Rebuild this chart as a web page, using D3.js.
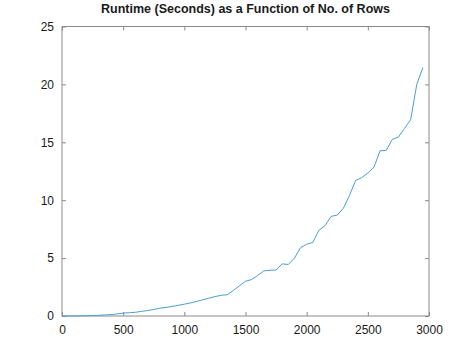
<!DOCTYPE html>
<html>
<head>
<meta charset="utf-8">
<script src="https://cdn.jsdelivr.net/npm/d3@7"></script>
<style>
  body { margin: 0; background: #fff; }
  text { font-family: "Liberation Sans", Arial, sans-serif; }
</style>
</head>
<body>
<script>
var svgWidth = 474;
var svgHeight = 355;

var margin = { top: 26.5, right: 45, bottom: 39, left: 62 };
var width = svgWidth - margin.left - margin.right;
var height = svgHeight - margin.top - margin.bottom;

// rows (x) and runtime in seconds (y)
var rows = [0, 50, 100, 150, 200, 250, 300, 350, 400, 450,
  500, 550, 600, 650, 700, 750, 800, 850, 900, 950,
  1000, 1050, 1100, 1150, 1200, 1250, 1300, 1350, 1400, 1450,
  1500, 1550, 1600, 1650, 1700, 1750, 1800, 1850, 1900, 1950,
  2000, 2050, 2100, 2150, 2200, 2250, 2300, 2350, 2400, 2450,
  2500, 2550, 2600, 2650, 2700, 2750, 2800, 2850, 2900, 2950];
var seconds = [0, 0.002, 0.005, 0.01, 0.02, 0.04, 0.06, 0.09, 0.12, 0.17,
  0.25, 0.28, 0.32, 0.4, 0.47, 0.56, 0.68, 0.74, 0.83, 0.92,
  1.02, 1.13, 1.26, 1.4, 1.53, 1.67, 1.79, 1.83, 2.2, 2.6,
  3.0, 3.15, 3.5, 3.9, 3.95, 3.97, 4.5, 4.45, 5.0, 5.9,
  6.2, 6.35, 7.4, 7.8, 8.6, 8.72, 9.3, 10.4, 11.7, 11.95,
  12.35, 12.85, 14.27, 14.3, 15.25, 15.45, 16.2, 16.95, 20.0, 21.45];
var xTicks = [0, 500, 1000, 1500, 2000, 2500, 3000];
var yTicks = [0, 5, 10, 15, 20, 25];

var data = rows.map(function(r, i) { return { rows: r, secs: seconds[i] }; });

var svg = d3.select("body")
  .append("svg")
  .attr("width", svgWidth)
  .attr("height", svgHeight);

var chart = svg.append("g")
  .attr("transform", "translate(" + margin.left + "," + margin.top + ")");

var x = d3.scaleLinear().domain([0, 3000]).range([0, width]);
var y = d3.scaleLinear().domain([0, 25]).range([height, 0]);

var axisColor = "#8a8a8a";

// box axes with inward ticks on all four sides
function styleAxis(g) {
  g.select(".domain").remove();
  g.selectAll(".tick line").attr("stroke", axisColor);
  g.selectAll(".tick text").attr("fill", "#1a1a1a").style("font-size", "12px");
}

chart.append("g")
  .attr("transform", "translate(0," + height + ")")
  .call(d3.axisBottom(x).tickValues(xTicks).tickFormat(d3.format("d"))
    .tickSizeInner(-4).tickSizeOuter(0).tickPadding(9))
  .call(styleAxis);

chart.append("g")
  .call(d3.axisTop(x).tickValues(xTicks).tickSizeInner(-4).tickSizeOuter(0).tickFormat(""))
  .call(styleAxis);

chart.append("g")
  .call(d3.axisLeft(y).tickValues(yTicks).tickSizeInner(-4).tickSizeOuter(0).tickPadding(8))
  .call(styleAxis);

chart.append("g")
  .attr("transform", "translate(" + width + ",0)")
  .call(d3.axisRight(y).tickValues(yTicks).tickSizeInner(-4).tickSizeOuter(0).tickFormat(""))
  .call(styleAxis);

chart.append("rect")
  .attr("width", width)
  .attr("height", height)
  .attr("fill", "none")
  .attr("stroke", axisColor)
  .attr("stroke-width", 1);

var line = d3.line()
  .x(function(d) { return x(d.rows); })
  .y(function(d) { return y(d.secs); });

chart.append("path")
  .datum(data)
  .attr("d", line)
  .attr("fill", "none")
  .attr("stroke", "#4a9fcf")
  .attr("stroke-width", 1);

svg.append("text")
  .attr("x", margin.left + width / 2)
  .attr("y", 13)
  .attr("text-anchor", "middle")
  .style("font-size", "12.5px")
  .style("font-weight", "bold")
  .attr("fill", "#1a1a1a")
  .text("Runtime (Seconds) as a Function of No. of Rows");
</script>
</body>
</html>
